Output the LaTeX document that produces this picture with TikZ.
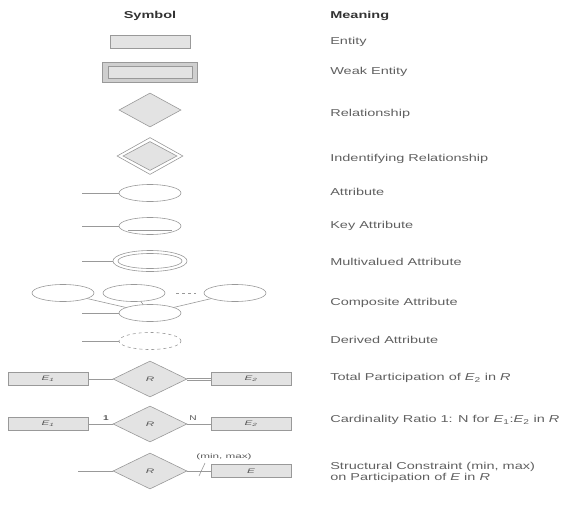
\documentclass[tikz,border=0pt]{standalone}
\usepackage{fontspec}
\setmainfont{Liberation Sans}[FakeStretch=1.45]
\newfontfamily\widesans{Liberation Sans}[FakeStretch=1.8]
\usetikzlibrary{shapes}

\begin{document}
\begin{tikzpicture}[x=1pt,y=-1pt,line width=0.6pt]
\tikzstyle{ent}=[rectangle,draw=gray!80,fill=gray!22,minimum width=80pt,minimum height=13pt,inner sep=0pt,text=gray!70!black,font=\widesans\fontsize{6.5}{7}\selectfont\itshape]
\tikzstyle{rel}=[diamond,draw=gray!80,fill=gray!22,minimum width=74pt,minimum height=36pt,inner sep=0pt,text=gray!70!black,font=\widesans\fontsize{6.5}{7}\selectfont\itshape]
\tikzstyle{attr}=[ellipse,draw=gray!80,minimum width=62pt,minimum height=17pt,inner sep=0pt]
\tikzstyle{conn}=[draw=gray!80]
\tikzstyle{meaning}=[anchor=west,inner sep=0pt,align=left,text=gray!75!black,font=\fontsize{10}{11}\selectfont]
\tikzstyle{head}=[inner sep=0pt,text=black!80,font=\bfseries\fontsize{10}{11}\selectfont]
\tikzstyle{small}=[inner sep=0pt,text=gray!70!black,font=\widesans\fontsize{6.5}{7}\selectfont]
\useasboundingbox (0,0) rectangle (579,509);

% headings
\node[head] (sym) at (150,16) {Symbol};
\node[head,anchor=west] (mean) at (330,16) {Meaning};

% entity
\node[ent] (ent) at (150,42) {};
\node[meaning] (m1) at (330,42) {Entity};

% weak entity
\node[ent,minimum width=95pt,minimum height=20pt,fill=gray!38] (weak) at (150,72) {};
\node[ent,minimum width=84pt,minimum height=12pt] (weakin) at (150,72) {};
\node[meaning] (m2) at (330,72) {Weak Entity};

% relationship
\node[rel,minimum width=62pt,minimum height=34pt] (rel) at (150,110) {};
\node[meaning] (m3) at (330,114) {Relationship};

% identifying relationship
\node[rel,minimum width=66pt,minimum height=37pt,fill=white] (idrel) at (150,156) {};
\node[rel,minimum width=54pt,minimum height=29pt] (idrelin) at (150,156) {};
\node[meaning] (m4) at (330,159) {Indentifying Relationship};

% attribute
\node[attr] (att) at (150,193) {};
\coordinate (att0) at (82,193);
\draw[conn] (att0) -- (att);
\node[meaning] (m5) at (330,192) {Attribute};

% key attribute
\node[attr] (key) at (150,226) {};
\coordinate (key0) at (82,226);
\draw[conn] (key0) -- (key);
\draw[conn] ([shift={(-22,4)}]key.center) -- ([shift={(22,4)}]key.center);
\node[meaning] (m6) at (330,226) {Key Attribute};

% multivalued attribute
\node[attr,minimum width=74pt,minimum height=21pt] (multi) at (150,261) {};
\node[attr,minimum width=64pt,minimum height=15pt] (multiin) at (150,261) {};
\coordinate (multi0) at (82,261);
\draw[conn] (multi0) -- (multi);
\node[meaning] (m7) at (330,262) {Multivalued Attribute};

% composite attribute
\node[attr] (cl) at (63,293) {};
\node[attr] (cm) at (134,293) {};
\node[attr] (cr) at (235,293) {};
\node[attr] (cb) at (150,313) {};
\coordinate (cb0) at (82,313);
\draw[conn] (cb0) -- (cb);
\draw[conn] (cl) -- (cb);
\draw[conn] (cm) -- (cb);
\draw[conn] (cr) -- (cb);
\draw[conn,dashed,shorten <=11pt,shorten >=8pt] (cm) -- (cr);
\node[meaning] (m8) at (330,303) {Composite Attribute};

% derived attribute
\node[attr,dashed] (der) at (150,341) {};
\coordinate (der0) at (82,341);
\draw[conn] (der0) -- (der);
\node[meaning] (m9) at (330,340) {Derived Attribute};

% total participation
\node[ent] (e1a) at (48,379) {E\textsubscript{1}};
\node[rel] (ra) at (150,379) {R};
\node[ent] (e2a) at (251,379) {E\textsubscript{2}};
\draw[conn] (e1a) -- (ra);
\draw[conn] ([yshift=1pt]ra.east) -- ([yshift=1pt]e2a.west);
\draw[conn] ([yshift=-1pt]ra.east) -- ([yshift=-1pt]e2a.west);
\node[meaning] (m10) at (330,378) {Total Participation of \textit{E}\textsubscript{2} in \textit{R}};

% cardinality ratio
\node[ent] (e1b) at (48,424) {E\textsubscript{1}};
\node[rel] (rb) at (150,424) {R};
\node[ent] (e2b) at (251,424) {E\textsubscript{2}};
\draw[conn] (e1b) -- (rb);
\draw[conn] (rb) -- (e2b);
\node[small,font=\fontsize{7}{8}\selectfont\bfseries] (one) at (106,418) {1};
\node[small,font=\fontsize{7}{8}\selectfont] (many) at (193,418) {N};
\node[meaning] (m11) at (330,420) {Cardinality Ratio 1: N for \textit{E}\textsubscript{1}:\textit{E}\textsubscript{2} in \textit{R}};

% structural constraint
\coordinate (rc0) at (78,471);
\node[rel] (rc) at (150,471) {R};
\node[ent] (ec) at (251,471) {E};
\draw[conn] (rc0) -- (rc);
\draw[conn] (rc) -- (ec);
\node[small] (minmax) at (224,457) {(min, max)};
\coordinate (tick1) at (199,476);
\coordinate (tick2) at (205,463);
\draw[conn] (tick1) -- (tick2);
\node[meaning] (m12) at (330,472) {Structural Constraint (min, max)\\on Participation of \textit{E} in \textit{R}};
\end{tikzpicture}
\end{document}
